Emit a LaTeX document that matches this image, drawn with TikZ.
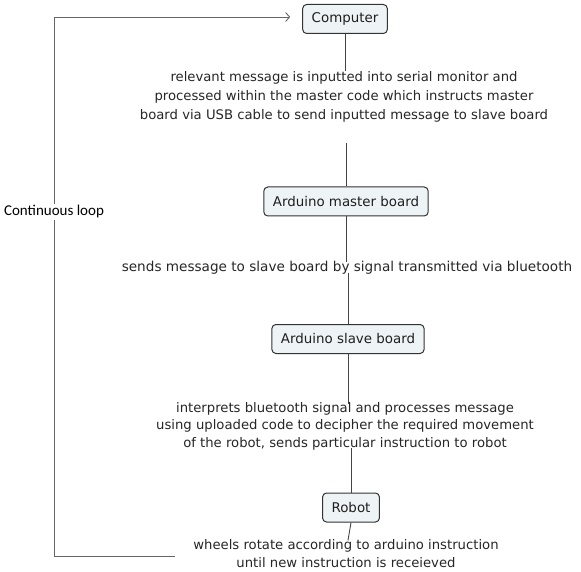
\documentclass[tikz,border=0pt]{standalone}
\usepackage{fontspec}
\setmainfont{DejaVu Sans}
\newfontfamily\loopfont{Carlito}
\usetikzlibrary{arrows.meta}
\definecolor{boxfill}{HTML}{EEF3F6}
\definecolor{boxline}{HTML}{333333}
\definecolor{conn}{HTML}{444444}
\definecolor{loopline}{HTML}{666666}
\tikzset{
  concept/.style={draw=boxline, fill=boxfill, rounded corners=4pt, line width=1pt,
    font=\fontsize{13.4}{15}\selectfont, text=black!88, inner xsep=9pt, minimum height=29pt, inner ysep=0pt},
  lbl/.style={align=center, font=\fontsize{13.2}{19}\selectfont, text=black!85, inner sep=0pt},
  lbltight/.style={align=center, font=\fontsize{13.2}{17.5}\selectfont, text=black!85, inner sep=0pt},
  link/.style={draw=conn, line width=0.9pt},
  loopl/.style={draw=loopline, line width=0.9pt}
}
\begin{document}
\begin{tikzpicture}[x=1pt,y=-1pt]
\useasboundingbox (0,0) rectangle (581,572);
\node[concept] (comp) at (345,19) {Computer};
\node[concept] (master) at (346,201.5) {Arduino master board};
\node[concept] (slave) at (348,339) {Arduino slave board};
\node[concept] (robot) at (351,507.5) {Robot};

\node[lbl] (l1) at (344,97) {relevant message is inputted into serial monitor and\\processed within the master code which instructs master\\board via USB cable to send inputted message to slave board};
\node[lbl, font=\fontsize{13.6}{19}\selectfont] (l2) at (347,268) {sends message to slave board by signal transmitted via bluetooth};
\node[lbltight] (l3) at (345,426) {interprets bluetooth signal and processes message\\using uploaded code to decipher the required movement\\of the robot, sends particular instruction to robot};
\node[lbltight] (l4) at (346,553.5) {wheels rotate according to arduino instruction\\until new instruction is receieved};

\draw[link] (comp.south) -- (comp.south |- l1.north);
\draw[link] ([yshift=-20pt]l1.south -| master.north) -- (master.north);
\draw[link] (master.south) -- ([yshift=-1pt]master.south |- l2.north);
\draw[link] ([yshift=2pt]slave.north |- l2.south) -- (slave.north);
\draw[link] (slave.south) -- ([yshift=-2pt]slave.south |- l3.north);
\draw[link] ([yshift=2pt]robot.north |- l3.south) -- (robot.north);
\draw[link] (robot.south) -- ([xshift=-3pt,yshift=-1pt]robot.south |- l4.north);

\coordinate (lstart) at (175,556);
\coordinate (lbl) at (54,556);
\coordinate (ltl) at (54,17);
\draw[loopl, -{Straight Barb[length=4pt,width=9pt]}, shorten >=12pt] (lstart) -- (lbl) -- (ltl) -- (ltl -| comp.west);
\node[fill=white, inner sep=2pt, font=\loopfont\fontsize{15}{17}\selectfont] (loop) at (54,212) {Continuous loop};
\end{tikzpicture}
\end{document}
